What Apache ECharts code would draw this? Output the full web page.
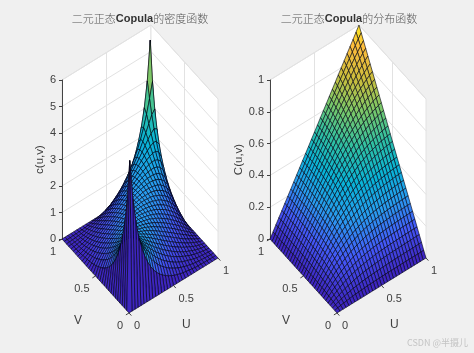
<!DOCTYPE html>
<html>
<head>
<meta charset="utf-8">
<style>html,body{margin:0;padding:0;background:#f0f0f0}#chart{width:474px;height:353px}</style>
<script src="https://cdn.jsdelivr.net/npm/echarts@6/dist/echarts.min.js"></script>
</head>
<body>
<div id="chart"></div>
<script>
const titles = ['二元正态', 'Copula'];
const titleEnds = ['的密度函数', '的分布函数'];
const zNames = ['c(u,v)', 'C(u,v)'];
const zMax = [6, 1];
const zStep = [1, 0.2];
const uvTicks = [0, 0.5, 1];

// surface heights on the 31x31 mesh (peaks, edges, ridge, saddle)
const density = [
[0,0,0,0,0,0,0,0,0,0,0,0,0,0,0,0,0,0,0,0,0,0,0,0,0,0,0,0,0,0,0],
[0,5.59,4.12,3.18,2.52,2.03,1.65,1.35,1.11,.91,.75,.62,.51,.42,.34,.28,.22,.18,.14,.11,.09,.07,.05,.03,.02,.02,.01,.01,0,0,0],
[0,4.12,3.54,3.02,2.59,2.22,1.91,1.65,1.42,1.22,1.06,.90,.77,.66,.56,.47,.40,.33,.27,.22,.18,.14,.11,.08,.06,.04,.03,.02,.01,0,0],
[0,3.18,3.02,2.75,2.48,2.23,1.99,1.77,1.58,1.40,1.24,1.09,.96,.84,.73,.64,.55,.47,.39,.33,.27,.22,.18,.14,.10,.07,.05,.03,.02,.01,0],
[0,2.52,2.59,2.48,2.33,2.16,1.99,1.82,1.66,1.51,1.37,1.23,1.10,.99,.88,.77,.68,.59,.51,.44,.37,.31,.25,.20,.15,.11,.08,.05,.03,.01,0],
[0,2.03,2.22,2.23,2.16,2.06,1.94,1.82,1.70,1.57,1.45,1.33,1.21,1.10,1.00,.89,.80,.71,.62,.54,.46,.39,.32,.26,.21,.16,.11,.07,.04,.02,0],
[0,1.65,1.91,1.99,1.99,1.94,1.87,1.79,1.70,1.60,1.50,1.40,1.29,1.19,1.09,1.00,.90,.81,.72,.64,.55,.48,.40,.33,.27,.21,.15,.10,.06,.02,0],
[0,1.35,1.65,1.77,1.82,1.82,1.79,1.74,1.68,1.60,1.53,1.44,1.36,1.27,1.18,1.09,1.00,.90,.82,.73,.65,.56,.48,.41,.33,.26,.20,.14,.08,.03,0],
[0,1.11,1.42,1.58,1.66,1.70,1.70,1.68,1.65,1.60,1.54,1.47,1.40,1.32,1.25,1.16,1.08,.99,.91,.82,.74,.65,.57,.48,.40,.32,.25,.18,.11,.05,0],
[0,.91,1.22,1.40,1.51,1.57,1.60,1.60,1.60,1.57,1.53,1.48,1.43,1.37,1.30,1.23,1.15,1.07,.99,.91,.82,.74,.65,.56,.48,.39,.31,.22,.14,.07,0],
[0,.75,1.06,1.24,1.37,1.45,1.50,1.53,1.54,1.53,1.51,1.48,1.44,1.40,1.34,1.28,1.22,1.14,1.07,.99,.91,.82,.74,.65,.55,.46,.37,.27,.18,.09,0],
[0,.62,.90,1.09,1.23,1.33,1.40,1.44,1.47,1.48,1.48,1.47,1.44,1.41,1.37,1.32,1.27,1.21,1.14,1.07,.99,.91,.82,.73,.64,.54,.44,.33,.22,.11,0],
[0,.51,.77,.96,1.10,1.21,1.29,1.36,1.40,1.43,1.44,1.44,1.44,1.42,1.39,1.36,1.32,1.26,1.21,1.14,1.07,.99,.91,.82,.72,.62,.51,.39,.27,.14,0],
[0,.42,.66,.84,.99,1.10,1.19,1.27,1.32,1.37,1.40,1.41,1.42,1.42,1.40,1.38,1.35,1.31,1.26,1.21,1.14,1.07,.99,.90,.81,.71,.59,.47,.33,.18,0],
[0,.34,.56,.73,.88,1.00,1.09,1.18,1.25,1.30,1.34,1.37,1.39,1.40,1.41,1.40,1.38,1.35,1.32,1.27,1.22,1.15,1.08,1.00,.90,.80,.68,.55,.40,.22,0],
[0,.28,.47,.64,.77,.89,1.00,1.09,1.16,1.23,1.28,1.32,1.36,1.38,1.40,1.40,1.40,1.38,1.36,1.32,1.28,1.23,1.16,1.09,1.00,.89,.77,.64,.47,.28,0],
[0,.22,.40,.55,.68,.80,.90,1.00,1.08,1.15,1.22,1.27,1.32,1.35,1.38,1.40,1.41,1.40,1.39,1.37,1.34,1.30,1.25,1.18,1.09,1.00,.88,.73,.56,.34,0],
[0,.18,.33,.47,.59,.71,.81,.90,.99,1.07,1.14,1.21,1.26,1.31,1.35,1.38,1.40,1.42,1.42,1.41,1.40,1.37,1.32,1.27,1.19,1.10,.99,.84,.66,.42,0],
[0,.14,.27,.39,.51,.62,.72,.82,.91,.99,1.07,1.14,1.21,1.26,1.32,1.36,1.39,1.42,1.44,1.44,1.44,1.43,1.40,1.36,1.29,1.21,1.10,.96,.77,.51,0],
[0,.11,.22,.33,.44,.54,.64,.73,.82,.91,.99,1.07,1.14,1.21,1.27,1.32,1.37,1.41,1.44,1.47,1.48,1.48,1.47,1.44,1.40,1.33,1.23,1.09,.90,.62,0],
[0,.09,.18,.27,.37,.46,.55,.65,.74,.82,.91,.99,1.07,1.14,1.22,1.28,1.34,1.40,1.44,1.48,1.51,1.53,1.54,1.53,1.50,1.45,1.37,1.24,1.06,.75,0],
[0,.07,.14,.22,.31,.39,.48,.56,.65,.74,.82,.91,.99,1.07,1.15,1.23,1.30,1.37,1.43,1.48,1.53,1.57,1.60,1.60,1.60,1.57,1.51,1.40,1.22,.91,0],
[0,.05,.11,.18,.25,.32,.40,.48,.57,.65,.74,.82,.91,.99,1.08,1.16,1.25,1.32,1.40,1.47,1.54,1.60,1.65,1.68,1.70,1.70,1.66,1.58,1.42,1.11,0],
[0,.03,.08,.14,.20,.26,.33,.41,.48,.56,.65,.73,.82,.90,1.00,1.09,1.18,1.27,1.36,1.44,1.53,1.60,1.68,1.74,1.79,1.82,1.82,1.77,1.65,1.35,0],
[0,.02,.06,.10,.15,.21,.27,.33,.40,.48,.55,.64,.72,.81,.90,1.00,1.09,1.19,1.29,1.40,1.50,1.60,1.70,1.79,1.87,1.94,1.99,1.99,1.91,1.65,0],
[0,.02,.04,.07,.11,.16,.21,.26,.32,.39,.46,.54,.62,.71,.80,.89,1.00,1.10,1.21,1.33,1.45,1.57,1.70,1.82,1.94,2.06,2.16,2.23,2.22,2.03,0],
[0,.01,.03,.05,.08,.11,.15,.20,.25,.31,.37,.44,.51,.59,.68,.77,.88,.99,1.10,1.23,1.37,1.51,1.66,1.82,1.99,2.16,2.33,2.48,2.59,2.52,0],
[0,.01,.02,.03,.05,.07,.10,.14,.18,.22,.27,.33,.39,.47,.55,.64,.73,.84,.96,1.09,1.24,1.40,1.58,1.77,1.99,2.23,2.48,2.75,3.02,3.18,0],
[0,0,.01,.02,.03,.04,.06,.08,.11,.14,.18,.22,.27,.33,.40,.47,.56,.66,.77,.90,1.06,1.22,1.42,1.65,1.91,2.22,2.59,3.02,3.54,4.12,0],
[0,0,0,.01,.01,.02,.02,.03,.05,.07,.09,.11,.14,.18,.22,.28,.34,.42,.51,.62,.75,.91,1.11,1.35,1.65,2.03,2.52,3.18,4.12,5.59,0],
[0,0,0,0,0,0,0,0,0,0,0,0,0,0,0,0,0,0,0,0,0,0,0,0,0,0,0,0,0,0,0]
];

const cdf = [
[0,0,0,0,0,0,0,0,0,0,0,0,0,0,0,0,0,0,0,0,0,0,0,0,0,0,0,0,0,0,0],
[0,.005,.009,.012,.015,.018,.020,.022,.024,.025,.026,.028,.028,.029,.030,.030,.031,.031,.032,.032,.032,.032,.033,.033,.033,.033,.033,.033,.033,.033,.033],
[0,.009,.016,.023,.029,.034,.039,.043,.046,.049,.052,.054,.056,.058,.059,.060,.061,.062,.063,.064,.064,.065,.065,.065,.066,.066,.066,.066,.066,.067,.067],
[0,.012,.023,.033,.042,.050,.056,.062,.068,.072,.076,.080,.083,.085,.088,.090,.091,.093,.094,.095,.096,.097,.097,.098,.098,.099,.099,.099,.100,.100,.100],
[0,.015,.029,.042,.053,.063,.073,.081,.088,.094,.100,.105,.109,.112,.116,.118,.121,.123,.125,.126,.127,.128,.129,.130,.131,.131,.132,.132,.133,.133,.133],
[0,.018,.034,.050,.063,.076,.087,.098,.107,.115,.122,.128,.134,.139,.143,.147,.150,.152,.155,.157,.159,.160,.161,.162,.163,.164,.165,.165,.166,.166,.167],
[0,.020,.039,.056,.073,.087,.101,.113,.124,.134,.143,.151,.158,.164,.169,.174,.178,.181,.184,.187,.189,.191,.193,.194,.196,.197,.198,.198,.199,.200,.200],
[0,.022,.043,.062,.081,.098,.113,.128,.141,.152,.163,.172,.181,.188,.195,.200,.205,.210,.214,.217,.220,.222,.224,.226,.228,.229,.230,.231,.232,.233,.233],
[0,.024,.046,.068,.088,.107,.124,.141,.155,.169,.181,.192,.202,.211,.219,.226,.232,.237,.242,.246,.250,.253,.255,.258,.260,.261,.263,.264,.265,.266,.267],
[0,.025,.049,.072,.094,.115,.134,.152,.169,.184,.198,.211,.223,.233,.242,.251,.258,.264,.270,.275,.279,.283,.286,.289,.291,.293,.295,.297,.298,.299,.300],
[0,.026,.052,.076,.100,.122,.143,.163,.181,.198,.214,.229,.242,.254,.265,.274,.283,.290,.297,.303,.308,.312,.316,.320,.323,.325,.327,.329,.331,.332,.333],
[0,.028,.054,.080,.105,.128,.151,.172,.192,.211,.229,.245,.260,.273,.285,.297,.307,.315,.323,.330,.336,.342,.346,.350,.354,.357,.359,.362,.364,.365,.367],
[0,.028,.056,.083,.109,.134,.158,.181,.202,.223,.242,.260,.276,.291,.305,.318,.329,.339,.348,.356,.364,.370,.375,.380,.384,.388,.391,.394,.396,.398,.400],
[0,.029,.058,.085,.112,.139,.164,.188,.211,.233,.254,.273,.291,.308,.324,.338,.350,.362,.373,.382,.390,.398,.404,.410,.415,.419,.423,.426,.429,.431,.433],
[0,.030,.059,.088,.116,.143,.169,.195,.219,.242,.265,.285,.305,.324,.341,.356,.371,.384,.396,.407,.416,.425,.432,.439,.445,.450,.454,.458,.461,.464,.467],
[0,.030,.060,.090,.118,.147,.174,.200,.226,.251,.274,.297,.318,.338,.356,.374,.390,.404,.418,.430,.441,.451,.459,.467,.474,.480,.485,.490,.494,.497,.500],
[0,.031,.061,.091,.121,.150,.178,.205,.232,.258,.283,.307,.329,.350,.371,.390,.407,.424,.438,.452,.465,.476,.486,.495,.502,.510,.516,.521,.526,.530,.533],
[0,.031,.062,.093,.123,.152,.181,.210,.237,.264,.290,.315,.339,.362,.384,.404,.424,.441,.458,.473,.487,.500,.511,.521,.531,.539,.546,.552,.558,.562,.567],
[0,.032,.063,.094,.125,.155,.184,.214,.242,.270,.297,.323,.348,.373,.396,.418,.438,.458,.476,.493,.509,.523,.536,.547,.558,.567,.576,.583,.589,.595,.600],
[0,.032,.064,.095,.126,.157,.187,.217,.246,.275,.303,.330,.356,.382,.407,.430,.452,.473,.493,.512,.529,.545,.559,.572,.584,.595,.605,.613,.621,.628,.633],
[0,.032,.064,.096,.127,.159,.189,.220,.250,.279,.308,.336,.364,.390,.416,.441,.465,.487,.509,.529,.547,.565,.581,.596,.610,.622,.633,.643,.652,.660,.667],
[0,.032,.065,.097,.128,.160,.191,.222,.253,.283,.312,.342,.370,.398,.425,.451,.476,.500,.523,.545,.565,.584,.602,.619,.634,.648,.661,.672,.683,.692,.700],
[0,.033,.065,.097,.129,.161,.193,.224,.255,.286,.316,.346,.375,.404,.432,.459,.486,.511,.536,.559,.581,.602,.622,.641,.658,.673,.688,.701,.713,.724,.733],
[0,.033,.065,.098,.130,.162,.194,.226,.258,.289,.320,.350,.380,.410,.439,.467,.495,.521,.547,.572,.596,.619,.641,.661,.680,.698,.714,.729,.743,.755,.767],
[0,.033,.066,.098,.131,.163,.196,.228,.260,.291,.323,.354,.384,.415,.445,.474,.502,.531,.558,.584,.610,.634,.658,.680,.701,.721,.739,.756,.772,.787,.800],
[0,.033,.066,.099,.131,.164,.197,.229,.261,.293,.325,.357,.388,.419,.450,.480,.510,.539,.567,.595,.622,.648,.673,.698,.721,.743,.763,.783,.801,.818,.833],
[0,.033,.066,.099,.132,.165,.198,.230,.263,.295,.327,.359,.391,.423,.454,.485,.516,.546,.576,.605,.633,.661,.688,.714,.739,.763,.786,.809,.829,.849,.867],
[0,.033,.066,.099,.132,.165,.198,.231,.264,.297,.329,.362,.394,.426,.458,.490,.521,.552,.583,.613,.643,.672,.701,.729,.756,.783,.809,.833,.857,.879,.900],
[0,.033,.066,.100,.133,.166,.199,.232,.265,.298,.331,.364,.396,.429,.461,.494,.526,.558,.589,.621,.652,.683,.713,.743,.772,.801,.829,.857,.883,.909,.933],
[0,.033,.067,.100,.133,.166,.200,.233,.266,.299,.332,.365,.398,.431,.464,.497,.530,.562,.595,.628,.660,.692,.724,.755,.787,.818,.849,.879,.909,.938,.967],
[0,.033,.067,.100,.133,.167,.200,.233,.267,.300,.333,.367,.400,.433,.467,.500,.533,.567,.600,.633,.667,.700,.733,.767,.800,.833,.867,.900,.933,.967,1]
];

const parula = ['#3E26C0', '#4458F8', '#2A9BF0', '#08B4D8', '#2EC0A4', '#78C86A', '#CCBE3C', '#FDBC3C', '#F9FB15'];

// MATLAB style view: how the u and v axes lie inside the grid, as fractions of it
const view = { ox: 0.4295, ux: 0.5705, vx: -0.4295, oy: -0.4654, uy: 0.3459, vy: 0.4654 };
const grids = [
  { left: 62, top: 80, width: 156, height: 159 },
  { left: 270, top: 80, width: 156, height: 159 },
];
const axisColor = '#404040';
const gridColor = '#e2e2e2';

function project(api, p, u, v, z) {
  return api.coord([
    view.ox + view.ux * u + view.vx * v,
    z + (view.oy + view.uy * u + view.vy * v) * zMax[p],
  ]);
}

function wallSeries(p) {
  const ticks = [];
  for (let z = 0; z <= zMax[p] + 1e-9; z += zStep[p]) ticks.push(z);
  return {
    type: 'custom',
    xAxisIndex: p,
    yAxisIndex: p,
    silent: true,
    z: 1,
    data: [[0, 0]],
    renderItem(params, api) {
      const top = zMax[p];
      const poly = (pts) => ({
        type: 'polygon',
        shape: { points: pts },
        style: { fill: '#fff', stroke: gridColor, lineWidth: 1 },
      });
      const line = (a, b) => ({
        type: 'line',
        shape: { x1: a[0], y1: a[1], x2: b[0], y2: b[1] },
        style: { stroke: gridColor, lineWidth: 1 },
      });
      const children = [
        poly([project(api, p, 0, 1, 0), project(api, p, 1, 1, 0), project(api, p, 1, 1, top), project(api, p, 0, 1, top)]),
        poly([project(api, p, 1, 1, 0), project(api, p, 1, 0, 0), project(api, p, 1, 0, top), project(api, p, 1, 1, top)]),
        line(project(api, p, 0.5, 1, 0), project(api, p, 0.5, 1, top)),
        line(project(api, p, 1, 0.5, 0), project(api, p, 1, 0.5, top)),
      ];
      ticks.forEach((z) => {
        children.push(line(project(api, p, 0, 1, z), project(api, p, 1, 1, z)));
        children.push(line(project(api, p, 1, 1, z), project(api, p, 1, 0, z)));
      });
      return { type: 'group', children };
    },
  };
}

function surfaceSeries(p, table) {
  const n = table.length - 1;
  let peak = 0;
  table.forEach((row) => row.forEach((z) => { peak = Math.max(peak, z); }));
  // painter's order, far corner first
  const cells = [];
  for (let sum = 2 * n - 2; sum >= 0; sum--) {
    for (let i = 0; i < n; i++) {
      const j = sum - i;
      if (j >= 0 && j < n) cells.push([i, j]);
    }
  }
  return {
    type: 'custom',
    xAxisIndex: p,
    yAxisIndex: p,
    silent: true,
    z: 3,
    progressive: 0,
    data: cells,
    renderItem(params, api) {
      const i = api.value(0);
      const j = api.value(1);
      const pt = (a, b) => project(api, p, a / n, b / n, table[a][b]);
      return {
        type: 'polygon',
        shape: { points: [pt(i, j), pt(i + 1, j), pt(i + 1, j + 1), pt(i, j + 1)] },
        style: {
          fill: echarts.color.lerp(table[i][j] / peak, parula),
          stroke: '#000010',
          lineWidth: 0.6,
        },
      };
    },
  };
}

function tickSeries(p) {
  const data = [];
  uvTicks.forEach((t) => { data.push([0, t]); data.push([1, t]); });
  return {
    type: 'custom',
    xAxisIndex: p,
    yAxisIndex: p,
    silent: true,
    z: 4,
    data,
    renderItem(params, api) {
      const isV = api.value(0) === 1;
      const t = api.value(1);
      const a = isV ? project(api, p, 0, t, 0) : project(api, p, t, 0, 0);
      const b = isV ? project(api, p, -0.035, t, 0) : project(api, p, t, -0.035, 0);
      return {
        type: 'group',
        children: [
          {
            type: 'line',
            shape: { x1: a[0], y1: a[1], x2: b[0], y2: b[1] },
            style: { stroke: axisColor, lineWidth: 1 },
          },
          {
            type: 'text',
            style: {
              text: String(t),
              x: a[0] + (isV ? -6 : 5),
              y: a[1] + 13,
              align: isV ? 'right' : 'left',
              verticalAlign: 'middle',
              fill: axisColor,
              font: '11px "Liberation Sans", Arial, sans-serif',
            },
          },
        ],
      };
    },
  };
}

const titleRich = {
  a: { fontFamily: '"Noto Sans CJK SC"', fontSize: 11, fontWeight: 300, color: '#555' },
  b: { fontFamily: '"Liberation Sans"', fontSize: 11, color: '#333', fontWeight: 'bold' },
};

const axisText = (text, x, y) => ({
  type: 'text',
  left: x,
  top: y,
  silent: true,
  style: { text, fill: axisColor, font: '12px "Liberation Sans", Arial, sans-serif' },
});

const chart = echarts.init(document.getElementById('chart'));
chart.setOption({
  backgroundColor: '#f0f0f0',
  animation: false,
  title: [0, 1].map((p) => ({
    text: `{a|${titles[0]}}{b|${titles[1]}}{a|${titleEnds[p]}}`,
    left: p === 0 ? 135 : 344,
    top: 8,
    textAlign: 'center',
    textStyle: { rich: titleRich },
  })),
  grid: grids,
  xAxis: [0, 1].map((p) => ({ type: 'value', gridIndex: p, min: 0, max: 1, show: false })),
  yAxis: [0, 1].map((p) => ({
    type: 'value',
    gridIndex: p,
    min: 0,
    max: zMax[p],
    interval: zStep[p],
    name: zNames[p],
    nameLocation: 'middle',
    nameGap: p === 0 ? 15 : 22,
    nameTextStyle: { color: axisColor, fontSize: 11.5, fontFamily: '"Liberation Sans"' },
    axisLine: { show: true, lineStyle: { color: '#444', width: 1 } },
    axisTick: { show: true, length: 3, lineStyle: { color: axisColor } },
    axisLabel: { color: axisColor, fontSize: 11, margin: 6, padding: [0, 0, 4, 0], fontFamily: '"Liberation Sans"' },
    splitLine: { show: false },
    z: 2,
  })),
  series: [
    wallSeries(0),
    surfaceSeries(0, density),
    tickSeries(0),
    wallSeries(1),
    surfaceSeries(1, cdf),
    tickSeries(1),
  ],
  graphic: [
    axisText('U', 182, 319),
    axisText('V', 74, 315),
    axisText('U', 390, 319),
    axisText('V', 282, 315),
    {
      type: 'text',
      left: 407,
      top: 338,
      silent: true,
      style: { text: 'CSDN @半摄儿', fill: '#c4c4c4', font: '9px "Noto Sans CJK SC", sans-serif' },
    },
  ],
});
</script>
</body>
</html>
